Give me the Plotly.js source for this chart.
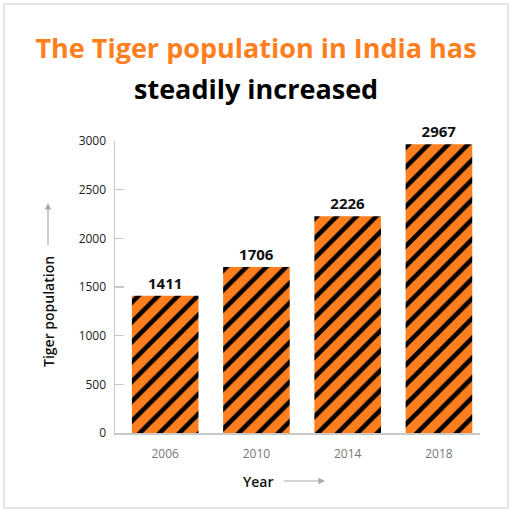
<!DOCTYPE html>
<html>
<head>
<meta charset="utf-8">
<script src="https://cdn.plot.ly/plotly-3.0.1.min.js"></script>
<style>
html,body{margin:0;padding:0;background:#fff;}
#chart{width:512px;height:512px;}
</style>
</head>
<body>
<div id="chart"></div>
<script>
var years = ['2006', '2010', '2014', '2018'];
var population = [1411, 1706, 2226, 2967];
var yTicks = [0, 500, 1000, 1500, 2000, 2500, 3000];
var titleLine1 = 'The Tiger population in India has';
var titleLine2 = 'steadily increased';
var xTitle = 'Year';
var yTitle = 'Tiger population';

var ORANGE = '#FF7F1E';
var FONT = '"Open Sans", Lato, sans-serif';

var trace = {
  type: 'bar',
  x: years,
  y: population,
  width: 0.73,
  marker: {
    color: ORANGE,
    line: {width: 0},
    pattern: {
      shape: '/',
      fillmode: 'overlay',
      bgcolor: ORANGE,
      fgcolor: '#000000',
      fgopacity: 1,
      size: 14,
      solidity: 0.33
    }
  },
  text: population.map(String),
  textposition: 'outside',
  textfont: {family: FONT, size: 15, color: '#111', weight: 'bold'},
  cliponaxis: false,
  hoverinfo: 'x+y'
};

// paper-coordinate helpers based on plot area (l=115, r=480, t=141, b=433)
function px(xp){ return (xp - 115) / 365; }
function py(yp){ return (433 - yp) / 292; }

var layout = {
  width: 512,
  height: 512,
  margin: {l: 115, r: 32, t: 141, b: 79},
  paper_bgcolor: '#ffffff',
  plot_bgcolor: '#ffffff',
  font: {family: FONT, color: '#222'},
  showlegend: false,
  bargap: 0.27,
  title: {
    text: titleLine1,
    font: {family: FONT, size: 27, color: ORANGE, weight: 'bold'},
    x: 256/512, xanchor: 'center',
    y: 1 - 49/512, yanchor: 'middle',
    xref: 'container', yref: 'container'
  },
  xaxis: {
    type: 'category',
    range: [-0.55, 3.45],
    showgrid: false,
    zeroline: false,
    showline: true,
    linecolor: '#c8c8c8',
    linewidth: 1.5,
    ticks: '',
    ticklabelstandoff: 9,
    tickfont: {family: FONT, size: 12, color: '#777'},
    fixedrange: true
  },
  yaxis: {
    range: [0, 3000],
    tickvals: yTicks,
    ticktext: yTicks.map(String),
    showgrid: false,
    zeroline: false,
    showline: true,
    linecolor: '#c8c8c8',
    linewidth: 1.5,
    ticks: 'inside',
    ticklen: 9,
    tickwidth: 1.5,
    tickcolor: '#c8c8c8',
    ticklabelstandoff: 5,
    tickfont: {family: FONT, size: 12, color: '#222'},
    fixedrange: true
  },
  annotations: [
    {
      text: titleLine2, xref: 'paper', yref: 'paper',
      x: px(256), y: py(88), xanchor: 'center', yanchor: 'middle',
      showarrow: false,
      font: {family: FONT, size: 27, color: '#000', weight: 'bold'}
    },
    {
      text: xTitle, xref: 'paper', yref: 'paper',
      x: px(258), y: py(481), xanchor: 'center', yanchor: 'middle',
      showarrow: false,
      font: {family: FONT, size: 14, color: '#111', weight: 600}
    },
    {
      text: '', xref: 'paper', yref: 'paper',
      x: px(325), y: py(481), ax: -43, ay: 0,
      showarrow: true, arrowhead: 2, arrowsize: 1.1, arrowwidth: 1.2, arrowcolor: '#aaaaaa'
    },
    {
      text: yTitle, xref: 'paper', yref: 'paper',
      x: px(48), y: py(312), xanchor: 'center', yanchor: 'middle',
      textangle: -90,
      showarrow: false,
      font: {family: FONT, size: 14, color: '#111', weight: 600}
    },
    {
      text: '', xref: 'paper', yref: 'paper',
      x: px(48), y: py(203), ax: 0, ay: 44,
      showarrow: true, arrowhead: 2, arrowsize: 1.1, arrowwidth: 1.2, arrowcolor: '#aaaaaa'
    }
  ],
  shapes: [
    {
      type: 'rect', xref: 'paper', yref: 'paper',
      x0: px(4), x1: px(508), y0: py(508), y1: py(4),
      line: {color: '#dddddd', width: 1.5},
      fillcolor: 'rgba(0,0,0,0)',
      layer: 'below'
    }
  ]
};

Plotly.newPlot('chart', [trace], layout, {displayModeBar: false, staticPlot: true});
</script>
</body>
</html>
